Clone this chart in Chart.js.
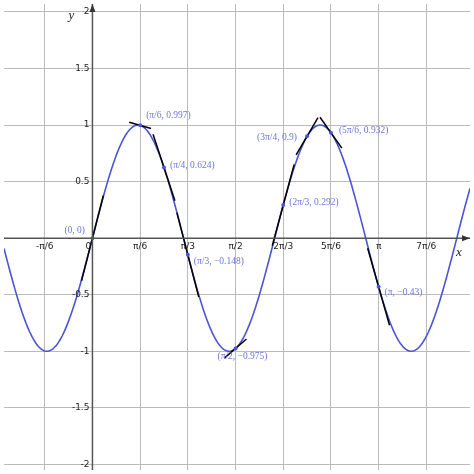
<!DOCTYPE html>
<html>
<head>
<meta charset="utf-8">
<script src="https://cdn.jsdelivr.net/npm/chart.js@4"></script>
<style>
  html, body { margin: 0; padding: 0; background: #fff; }
  #wrap { width: 474px; height: 474px; }
</style>
</head>
<body>
<div id="wrap"><canvas id="c" width="474" height="474"></canvas></div>
<script>
// plotted function: y = sin(pi * x)
const PI = Math.PI;
const xTickValues = [-1, 0, 1, 2, 3, 4, 5, 6, 7].map(k => k * PI / 6);
const xTickLabels = ['-π/6', '0', 'π/6', 'π/3', 'π/2', '2π/3', '5π/6', 'π', '7π/6'];
const yTickValues = [-2, -1.5, -1, -0.5, 0.5, 1, 1.5, 2];
const yTickLabels = ['-2', '-1.5', '-1', '-0.5', '0.5', '1', '1.5', '2'];

// marked points, their labels and tangent slopes
const pointX = [0, PI / 6, PI / 4, PI / 3, PI / 2, 2 * PI / 3, 3 * PI / 4, 5 * PI / 6, PI];
const pointY = [0, 0.997, 0.624, -0.148, -0.975, 0.292, 0.9, 0.932, -0.43];
const pointLabels = ['(0, 0)', '(π/6, 0.997)', '(π/4, 0.624)', '(π/3, −0.148)', '(π/2, −0.975)',
                     '(2π/3, 0.292)', '(3π/4, 0.9)', '(5π/6, 0.932)', '(π, −0.43)'];
const pointSlopes = [3.142, -0.233, -2.452, -3.108, 0.696, 2.99, 1.37, -1.14, -2.836];

const xMin = -0.971, xMax = 4.145;
const curve = [];
for (let i = 0; i <= 400; i++) {
  const x = xMin + (xMax - xMin) * i / 400;
  curve.push({ x: x, y: Math.sin(PI * x) });
}

const half = 0.12;
const tangentSets = pointX.map((px, i) => ({
  type: 'line',
  data: [{ x: px - half, y: pointY[i] - pointSlopes[i] * half },
         { x: px + half, y: pointY[i] + pointSlopes[i] * half }],
  borderColor: '#000', borderWidth: 1.5, pointRadius: 0, order: 0
}));

const axesPlugin = {
  id: 'axes',
  afterDatasetsDraw(chart) {
    const ctx = chart.ctx, xs = chart.scales.x, ys = chart.scales.y;
    const x0 = xs.getPixelForValue(0), y0 = ys.getPixelForValue(0);
    const a = chart.chartArea;
    ctx.save();
    ctx.strokeStyle = '#555'; ctx.fillStyle = '#333'; ctx.lineWidth = 1.5;
    ctx.beginPath();
    ctx.moveTo(a.left, y0); ctx.lineTo(a.right, y0);
    ctx.moveTo(x0, a.bottom); ctx.lineTo(x0, a.top);
    ctx.stroke();
    ctx.beginPath();
    ctx.moveTo(a.right, y0); ctx.lineTo(a.right - 8, y0 - 3); ctx.lineTo(a.right - 8, y0 + 3); ctx.fill();
    ctx.beginPath();
    ctx.moveTo(x0, a.top); ctx.lineTo(x0 - 3, a.top + 8); ctx.lineTo(x0 + 3, a.top + 8); ctx.fill();
    ctx.font = '9px "DejaVu Sans"';
    ctx.fillStyle = '#222';
    ctx.textAlign = 'center'; ctx.textBaseline = 'top';
    xTickValues.forEach((v, i) => {
      const px = xs.getPixelForValue(v);
      ctx.fillText(xTickLabels[i], i === 1 ? px - 4 : px, y0 + 4);
    });
    ctx.textAlign = 'right'; ctx.textBaseline = 'middle';
    yTickValues.forEach((v, i) => {
      ctx.fillText(yTickLabels[i], x0 - 3, ys.getPixelForValue(v));
    });
    ctx.font = 'italic 13px "Liberation Serif"';
    ctx.textAlign = 'left';
    ctx.fillText('x', a.right - 14, y0 + 14);
    ctx.fillText('y', x0 - 24, a.top + 12);
    ctx.font = '9.5px "Liberation Serif"';
    ctx.fillStyle = '#6b78d8';
    const offs = [[-28, -8], [6, -10], [6, -2], [6, 7], [-18, 8], [6, -3], [-50, 1], [8, -2], [6, 6]];
    pointX.forEach((px, i) => {
      const cx = xs.getPixelForValue(px), cy = ys.getPixelForValue(pointY[i]);
      ctx.textAlign = 'left';
      ctx.fillText(pointLabels[i], cx + offs[i][0], cy + offs[i][1]);
    });
    ctx.restore();
  }
};

new Chart(document.getElementById('c'), {
  type: 'scatter',
  data: {
    datasets: [
      { type: 'line', data: curve, borderColor: '#4a55d6', borderWidth: 1.6, pointRadius: 0, order: 2 },
      ...tangentSets,
      { data: pointX.map((x, i) => ({ x: x, y: pointY[i] })), pointRadius: 2,
        backgroundColor: '#4a55d6', borderWidth: 0, order: -1 }
    ]
  },
  options: {
    responsive: false, animation: false,
    layout: { padding: -4 },
    plugins: { legend: { display: false }, tooltip: { enabled: false } },
    scales: {
      x: {
        type: 'linear', min: xMin, max: xMax,
        afterBuildTicks: s => { s.ticks = xTickValues.map(v => ({ value: v })); },
        ticks: { display: false }, border: { display: false },
        grid: { color: '#bbb', lineWidth: 1, drawTicks: false }
      },
      y: {
        type: 'linear', min: -2.05, max: 2.07,
        afterBuildTicks: s => { s.ticks = [-2, -1.5, -1, -0.5, 0, 0.5, 1, 1.5, 2].map(v => ({ value: v })); },
        ticks: { display: false }, border: { display: false },
        grid: { color: '#bbb', lineWidth: 1, drawTicks: false }
      }
    }
  },
  plugins: [axesPlugin]
});
</script>
</body>
</html>
